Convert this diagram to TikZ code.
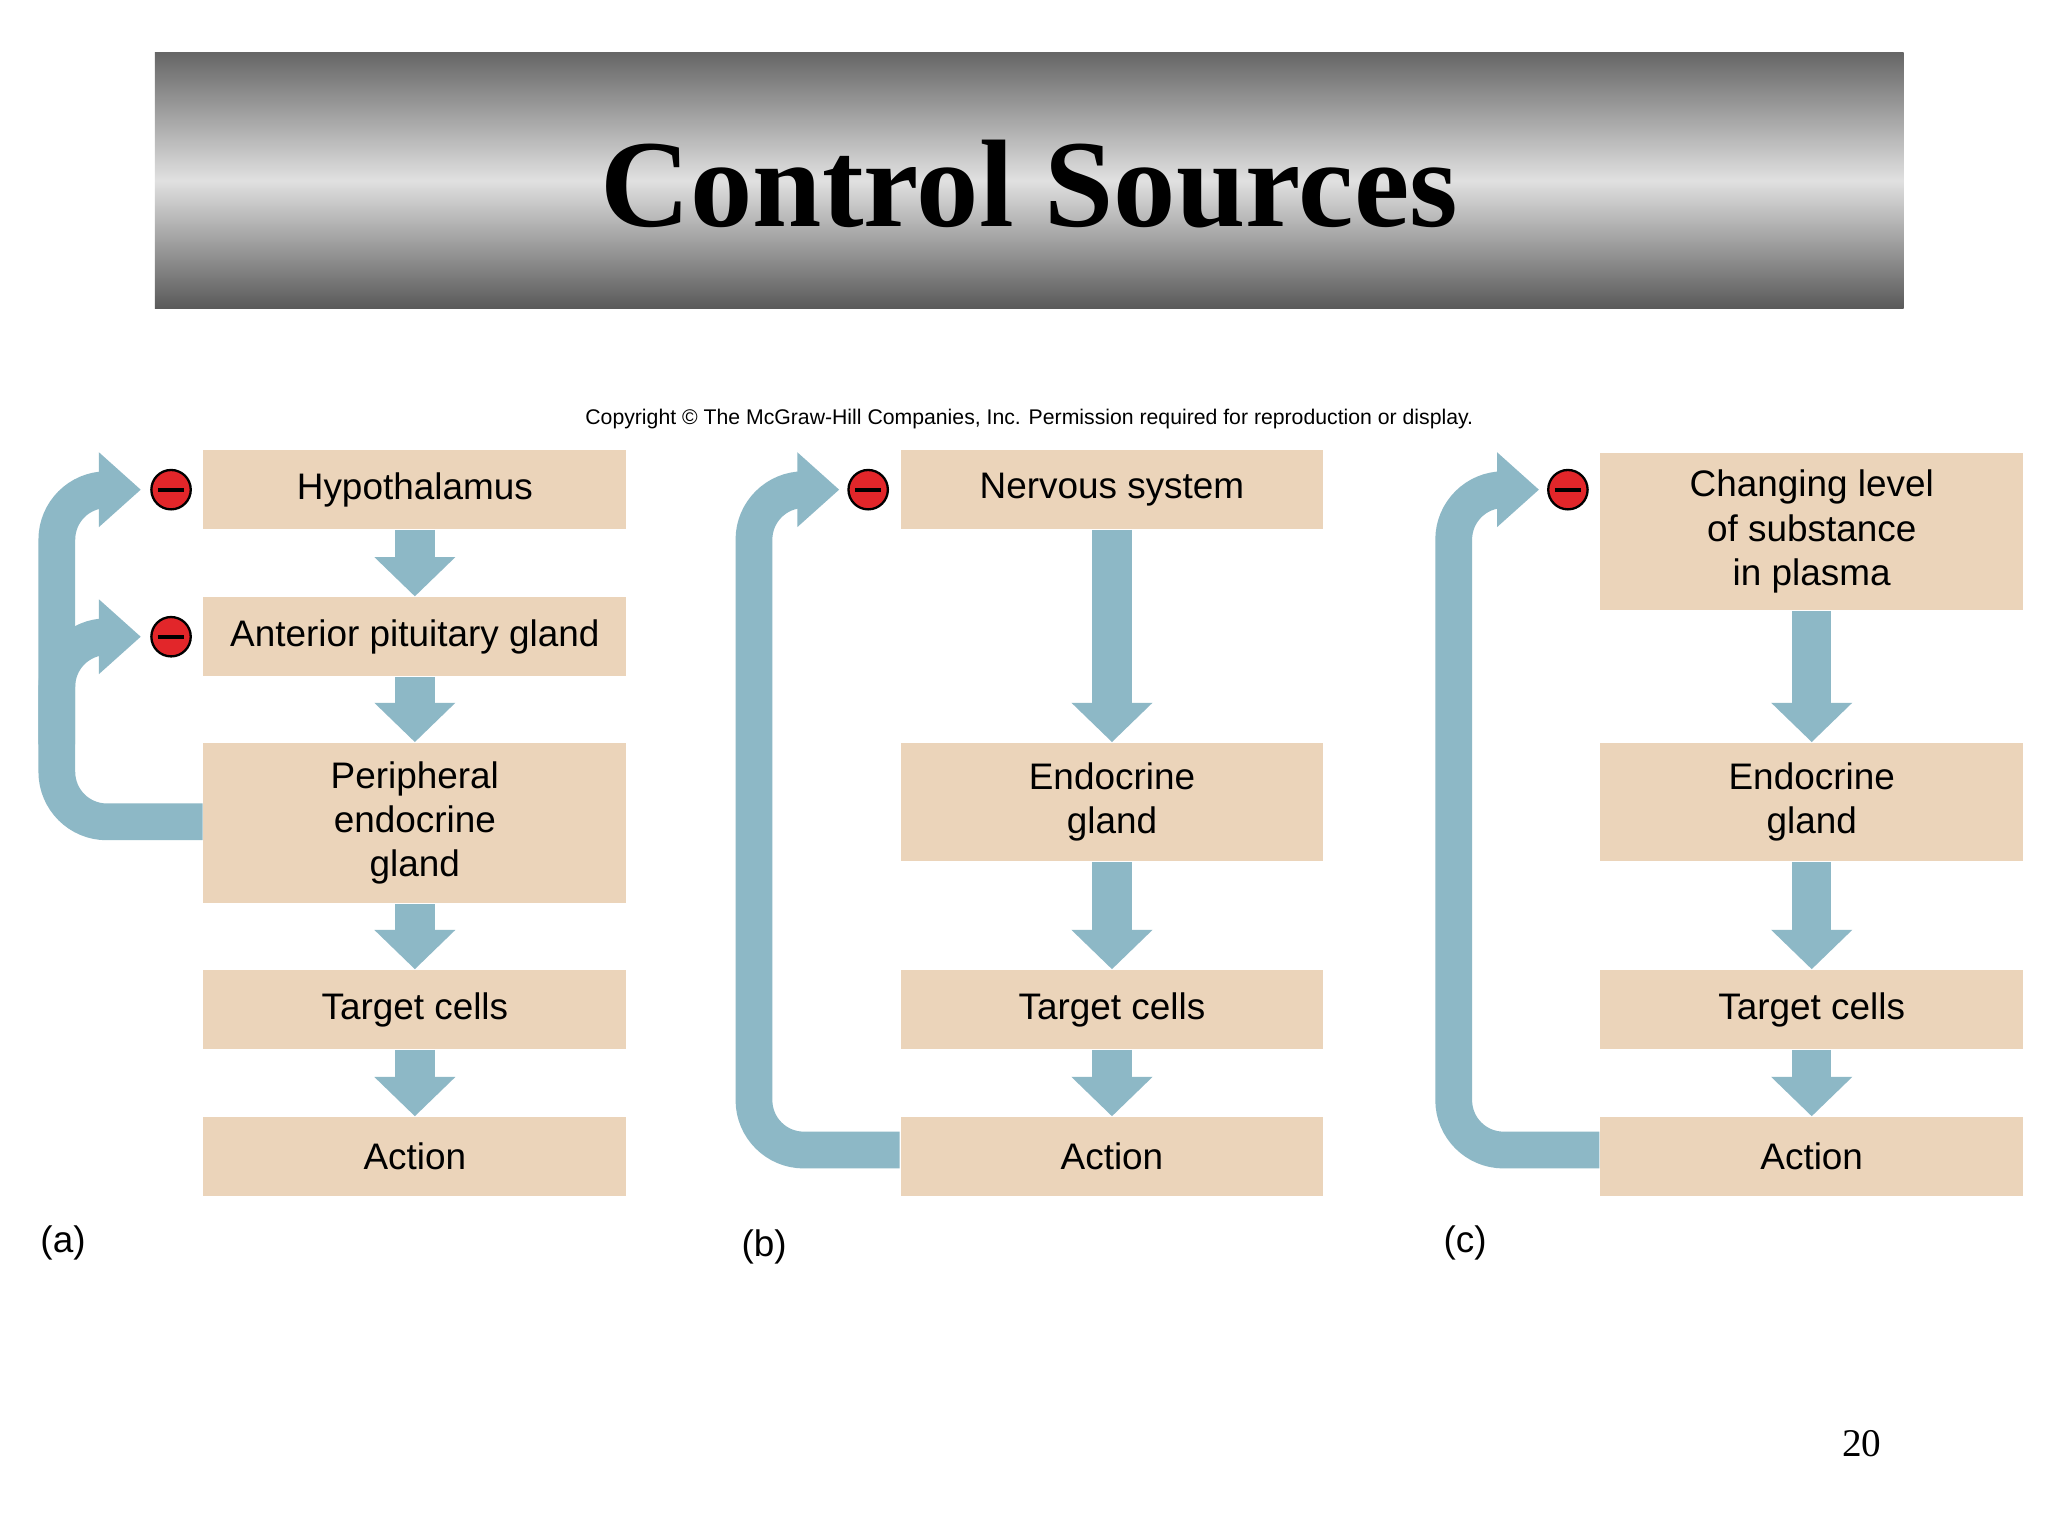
\documentclass[tikz,border=0pt]{standalone}
\usepackage{fontspec}
\setmainfont{Liberation Sans}
\newfontfamily\serifface{Liberation Serif}
\usetikzlibrary{arrows.meta}
\usetikzlibrary{calc}

\definecolor{boxtan}{HTML}{EBD4BA}
\definecolor{arrowblue}{HTML}{8DB8C6}
\definecolor{minusred}{HTML}{E2262A}

\tikzset{
  stage/.style={fill=boxtan, minimum width=3.22cm, minimum height=0.6cm, align=center,
    font=\fontsize{8}{9.6}\selectfont, inner sep=0pt},
  down/.style={draw=arrowblue, line width=0.3cm, -{Triangle[width=0.6cm,length=0.3cm]}},
  fb/.style={draw=arrowblue, line width=0.28cm, rounded corners=0.38cm, -{Triangle[width=0.55cm,length=0.32cm]}},
  minus/.style={circle, fill=minusred, draw=black, line width=0.5pt, minimum size=0.3cm, inner sep=0pt},
  panel/.style={font=\fontsize{8}{9.6}\selectfont}
}

\begin{document}
\begin{tikzpicture}
\useasboundingbox (0,0) rectangle (15.6,-11.7);
\fill[white] (0,0) rectangle (15.6,-11.7);

% title bar
\shade[top color=black!60, bottom color=black!65, middle color=black!12] (1.18,-0.4) rectangle (14.5,-2.35);
\node (title) at (7.84,-1.4) {\serifface\bfseries\fontsize{27}{30}\selectfont Control Sources};
\node (copy) at (7.84,-3.19) {\fontsize{4.6}{5}\selectfont Copyright \textcopyright{} The McGraw-Hill Companies, Inc. Permission required for reproduction or display.};

% panel (a)
\node[stage] (hyp) at (3.16,-3.73) {Hypothalamus};
\node[stage] (ant) at (3.16,-4.85) {Anterior pituitary gland};
\node[stage, minimum height=1.22cm] (per) at (3.16,-6.27) {Peripheral\\endocrine\\gland};
\node[stage] (tara) at (3.16,-7.69) {Target cells};
\node[stage] (acta) at (3.16,-8.81) {Action};
\draw[down] (hyp) -- (ant);
\draw[down] (ant) -- (per);
\draw[down] (per) -- (tara);
\draw[down] (tara) -- (acta);
\draw[fb] ([yshift=0.01cm]per.west) -- ++(-1.11,0) |- ([xshift=-0.47cm]hyp.west);
\draw[fb] ([xshift=-1.11cm,yshift=0.6cm]per.west) |- ([xshift=-0.47cm]ant.west);
\node[minus] (ma1) at ([xshift=-0.24cm]hyp.west) {\rule[-0.15pt]{0.2cm}{0.9pt}};
\node[minus] (ma2) at ([xshift=-0.24cm]ant.west) {\rule[-0.15pt]{0.2cm}{0.9pt}};
\node[panel] (la) at (0.48,-9.47) {(a)};

% panel (b)
\node[stage] (nerv) at (8.47,-3.73) {Nervous system};
\node[stage, minimum height=0.9cm] (endb) at (8.47,-6.11) {Endocrine\\gland};
\node[stage] (tarb) at (8.47,-7.69) {Target cells};
\node[stage] (actb) at (8.47,-8.81) {Action};
\draw[down] (nerv) -- (endb);
\draw[down] (endb) -- (tarb);
\draw[down] (tarb) -- (actb);
\draw[fb] ([yshift=0.05cm]actb.west) -- ++(-1.11,0) |- ([xshift=-0.46cm]nerv.west);
\node[minus] (mb) at ([xshift=-0.24cm]nerv.west) {\rule[-0.15pt]{0.2cm}{0.9pt}};
\node[panel] (lb) at (5.82,-9.5) {(b)};

% panel (c)
\node[stage, minimum height=1.2cm] (chg) at (13.8,-4.05) {Changing level\\of substance\\in plasma};
\node[stage, minimum height=0.9cm] (endc) at (13.8,-6.11) {Endocrine\\gland};
\node[stage] (tarc) at (13.8,-7.69) {Target cells};
\node[stage] (actc) at (13.8,-8.81) {Action};
\draw[down] (chg) -- (endc);
\draw[down] (endc) -- (tarc);
\draw[down] (tarc) -- (actc);
\draw[fb] ([yshift=0.05cm]actc.west) -- ++(-1.11,0) |- ([xshift=-0.46cm,yshift=0.32cm]chg.west);
\node[minus] (mc) at ([xshift=-0.24cm,yshift=0.32cm]chg.west) {\rule[-0.15pt]{0.2cm}{0.9pt}};
\node[panel] (lc) at (11.16,-9.47) {(c)};

\node (page) at (14.18,-11.0) {\serifface\fontsize{8.5}{10}\selectfont 20};
\end{tikzpicture}
\end{document}
